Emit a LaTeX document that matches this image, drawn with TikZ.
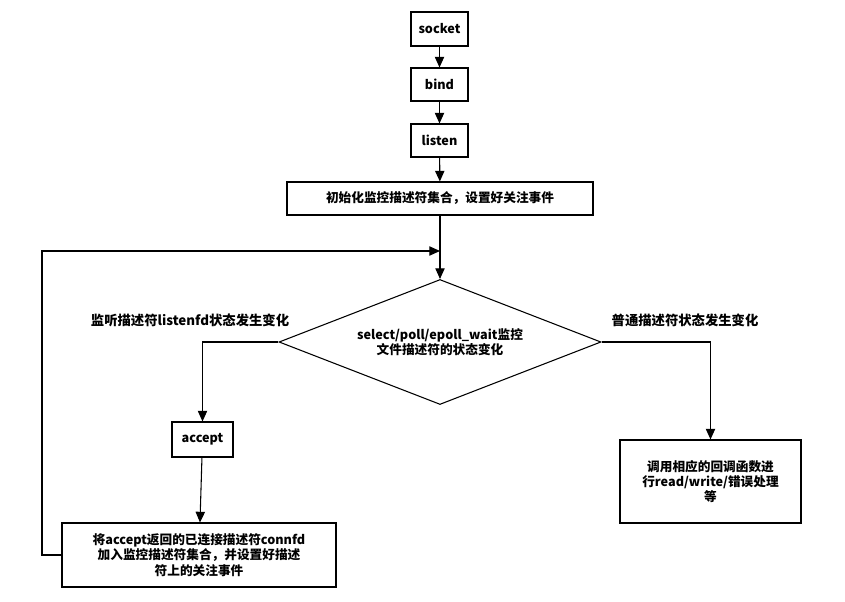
\documentclass[tikz,border=0pt]{standalone}
\usepackage{fontspec}
\setmainfont{Noto Sans CJK SC}
\usetikzlibrary{arrows.meta,shapes.geometric}
\begin{document}
\begin{tikzpicture}[x=0.75pt,y=-0.75pt,
  box/.style={draw,thick,inner sep=0pt,font=\fontsize{9.5}{11.5}\selectfont\bfseries,align=center},
  arr/.style={thick,-{Triangle[length=8pt,width=7pt]}},
  lbl/.style={font=\fontsize{10}{12}\selectfont\bfseries}]
\useasboundingbox[fill=white] (0,0) rectangle (845,602);
\node[box,minimum width=57*0.75pt,minimum height=34*0.75pt] (socket) at (439.5,29) {socket};
\node[box,minimum width=57*0.75pt,minimum height=33*0.75pt] (bind) at (439.5,84.5) {bind};
\node[box,minimum width=57*0.75pt,minimum height=33*0.75pt] (listen) at (439.5,140.5) {listen};
\node[box,minimum width=306*0.75pt,minimum height=33*0.75pt] (init) at (440,198.5) {初始化监控描述符集合，设置好关注事件};
\node[draw,thick,diamond,aspect=2.58,inner sep=0pt,minimum width=322*0.75pt,minimum height=125*0.75pt,font=\fontsize{9.5}{11.5}\selectfont\bfseries,align=center] (sel) at (440,342) {select/poll/epoll\_wait监控\\文件描述符的状态变化};
\node[box,minimum width=61*0.75pt,minimum height=35*0.75pt] (acc) at (202.5,439.5) {accept};
\node[box,minimum width=274*0.75pt,minimum height=64*0.75pt] (add) at (199,555) {将accept返回的已连接描述符connfd\\加入监控描述符集合，并设置好描述\\符上的关注事件};
\node[box,minimum width=181*0.75pt,minimum height=83*0.75pt] (rw) at (710.5,481.5) {调用相应的回调函数进\\行read/write/错误处理\\等};
\node[lbl] (l1) at (190,320) {监听描述符listenfd状态发生变化};
\node[lbl] (l2) at (685,320) {普通描述符状态发生变化};
\coordinate (j) at (440,251);
\draw[arr] (socket) -- (bind);
\draw[arr] (bind) -- (listen);
\draw[arr] (listen) -- (init);
\draw[arr] (init) -- (sel);
\draw[arr] (sel.west) -| (acc);
\draw[arr] (acc) -- (add);
\draw[arr] (sel.east) -| (rw);
\draw[arr] (add.west) -- (42,555) -- (42,251) -- (j);
\end{tikzpicture}
\end{document}
